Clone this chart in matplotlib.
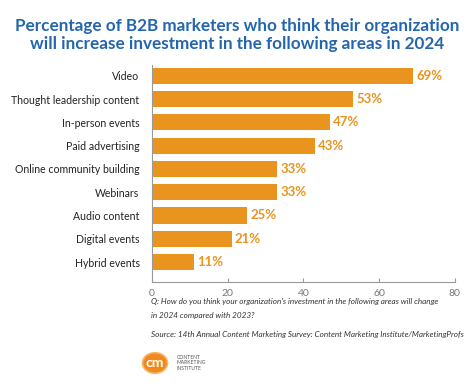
import matplotlib.pyplot as plt
from matplotlib.patches import Circle

categories = ['Video', 'Thought leadership content', 'In-person events', 'Paid advertising',
              'Online community building', 'Webinars', 'Audio content', 'Digital events',
              'Hybrid events']
values = [69, 53, 47, 43, 33, 33, 25, 21, 11]
xticks = [0, 20, 40, 60, 80]

orange = '#E8941E'
blue = '#2466AE'

plt.rcParams['font.family'] = ['Lato', 'DejaVu Sans']

fig = plt.figure(figsize=(4.74, 3.89), dpi=100)
ax = fig.add_axes([0.3207, 0.275, 0.639, 0.558])

y = list(range(len(categories)))
ax.barh(y, values, height=0.69, color=orange)
for yi, v in zip(y, values):
    ax.text(v + 0.9, yi, f'{v}%', va='center', ha='left', color=orange,
            fontsize=9.5, fontweight='bold')

ax.set_yticks(y)
ax.set_yticklabels(categories, fontsize=7.6, color='#222222')
ax.tick_params(axis='y', length=0, pad=9)
ax.set_ylim(8.86, -0.47)
ax.set_xlim(0, 80)
ax.set_xticks(xticks)
ax.tick_params(axis='x', direction='in', length=3, color='#999999',
               labelsize=7.5, labelcolor='#777777', pad=5)
for s in ['top', 'right']:
    ax.spines[s].set_visible(False)
ax.spines['left'].set_color('#999999')
ax.spines['bottom'].set_color('#999999')
ax.spines['left'].set_linewidth(0.8)
ax.spines['bottom'].set_linewidth(0.8)

fig.text(0.5, 0.955, 'Percentage of B2B marketers who think their organization\n'
         'will increase investment in the following areas in 2024',
         ha='center', va='top', color=blue, fontsize=12.3, fontweight='bold',
         linespacing=1.2)

fig.text(0.318, 0.224, "Q: How do you think your organization's investment in the following areas will change",
         fontsize=5.9, style='italic', color='#333333', va='center')
fig.text(0.318, 0.19, 'in 2024 compared with 2023?',
         fontsize=5.9, style='italic', color='#333333', va='center')
fig.text(0.318, 0.141, 'Source: 14th Annual Content Marketing Survey: Content Marketing Institute/MarketingProfs',
         fontsize=5.9, style='italic', color='#333333', va='center')

# logo
lx, ly = 155 / 474, 1 - 363 / 389
circ = Circle((lx, ly), 12.5 / 474, transform=fig.transFigure, facecolor='#F08A1C',
              edgecolor='#F5B469', linewidth=1.2)
fig.patches.append(circ)
fig.text(lx, ly, 'cm', ha='center', va='center', color='white', fontsize=10,
         fontweight='bold')
fig.text(0.372, ly, 'CONTENT\nMARKETING\nINSTITUTE', ha='left', va='center',
         fontsize=3.6, color='#555555', linespacing=1.1)

fig.savefig('out.png', dpi=100)
